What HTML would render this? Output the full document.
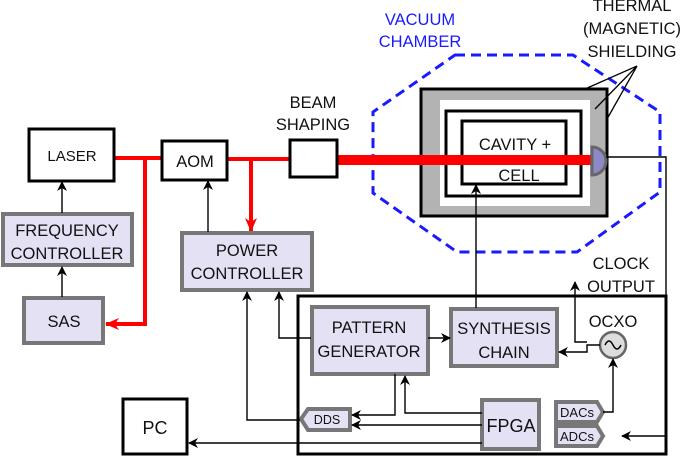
<!DOCTYPE html>
<html><head><meta charset="utf-8"><style>
html,body{margin:0;padding:0;background:#fff}
svg{display:block}
text{font-family:"Liberation Sans",Arial,sans-serif;fill:#111}
</style></head><body>
<svg width="685" height="457" viewBox="0 0 685 457" xmlns="http://www.w3.org/2000/svg">
<defs>
<marker id="a" markerWidth="10" markerHeight="10" refX="9" refY="5" orient="auto" markerUnits="userSpaceOnUse"><path d="M0,0 L10,5 L0,10 L3,5 z" fill="#000"/></marker>
<marker id="r" markerWidth="14" markerHeight="12" refX="13" refY="6" orient="auto" markerUnits="userSpaceOnUse"><path d="M0,0 L14,6 L0,12 L4,6 z" fill="#f00"/></marker>
</defs>

<polygon points="455,55 573,55 660,112 660,192 577,252 457,252 373,193 373,112" fill="none" stroke="#1a1aff" stroke-width="3" stroke-dasharray="10,6"/>
<text x="420" y="25" font-size="16.5" style="fill:#1a1aff" text-anchor="middle">VACUUM</text>
<text x="420" y="47" font-size="16.5" style="fill:#1a1aff" text-anchor="middle">CHAMBER</text>

<rect x="421" y="89" width="186" height="127" fill="#b3b3b3" stroke="#000" stroke-width="3"/>
<rect x="440" y="100" width="150" height="106" fill="#fff"/>
<rect x="446" y="111" width="135" height="85" fill="#fff" stroke="#000" stroke-width="3"/>
<rect x="462" y="121" width="104" height="63" fill="#fff" stroke="#000" stroke-width="3"/>
<text x="515" y="150" font-size="16.5" text-anchor="middle">CAVITY +</text>
<text x="519" y="181" font-size="16.5" text-anchor="middle">CELL</text>
<text x="632" y="11" font-size="16.5" text-anchor="middle">THERMAL</text>
<text x="632" y="34" font-size="16.5" text-anchor="middle">(MAGNETIC)</text>
<text x="632" y="57" font-size="16.5" text-anchor="middle">SHIELDING</text>
<path d="M637,66 L585,89 M637,66 L595,109 M637,66 L607,119" stroke="#000" stroke-width="1.3" fill="none"/>

<path d="M114,158 L161,158 M145,158 L145,324 L106,324" stroke="#f00" stroke-width="4" fill="none"/>
<path d="M145,324 L106,324" stroke="#f00" stroke-width="4" fill="none" marker-end="url(#r)"/>
<path d="M227,159 L290,159 M251,159 L251,230" stroke="#f00" stroke-width="4" fill="none"/>
<path d="M251,200 L251,231" stroke="#f00" stroke-width="4" fill="none" marker-end="url(#r)"/>
<path d="M337,160 L595,160" stroke="#f00" stroke-width="10" fill="none"/>
<path d="M592,147 A14,14 0 0 1 592,175 Z" fill="#8d88c8" stroke="#666" stroke-width="3"/>

<rect x="29" y="129" width="85" height="52" fill="#fff" stroke="#000" stroke-width="3"/>
<text x="72" y="161" font-size="15" text-anchor="middle">LASER</text>
<rect x="162" y="141" width="65" height="39" fill="#fff" stroke="#000" stroke-width="3"/>
<text x="195" y="167" font-size="16.5" text-anchor="middle">AOM</text>
<rect x="290" y="140" width="47" height="37" fill="#fff" stroke="#000" stroke-width="3"/>
<text x="313" y="108" font-size="16.5" text-anchor="middle">BEAM</text>
<text x="313" y="130" font-size="16.5" text-anchor="middle">SHAPING</text>

<g fill="#e5e1f5" stroke="#777" stroke-width="4">
<rect x="3" y="214" width="129" height="51"/>
<rect x="24" y="298" width="79" height="45"/>
<rect x="182" y="233" width="130" height="57"/>
<rect x="312" y="307" width="116" height="67"/>
<rect x="451" y="309" width="106" height="57"/>
<rect x="482" y="400" width="57" height="49"/>
<polygon points="301,419 308,409 350,409 350,430 308,430"/>
<polygon points="556,402 597,402 603,412 597,422 556,422"/>
<polygon points="556,426 597,426 603,436 597,446 556,446"/>
</g>
<text x="67" y="236" font-size="16.5" text-anchor="middle">FREQUENCY</text>
<text x="67" y="259" font-size="16.5" text-anchor="middle">CONTROLLER</text>
<text x="64" y="327" font-size="16.5" text-anchor="middle">SAS</text>
<text x="247" y="256" font-size="16.5" text-anchor="middle">POWER</text>
<text x="247" y="279" font-size="16.5" text-anchor="middle">CONTROLLER</text>
<text x="369" y="333" font-size="16.5" text-anchor="middle">PATTERN</text>
<text x="369" y="357" font-size="16.5" text-anchor="middle">GENERATOR</text>
<text x="504" y="334" font-size="16.5" text-anchor="middle">SYNTHESIS</text>
<text x="504" y="358" font-size="16.5" text-anchor="middle">CHAIN</text>
<text x="511" y="432" font-size="18" text-anchor="middle">FPGA</text>
<text x="327" y="424" font-size="12.5" text-anchor="middle">DDS</text>
<text x="577" y="417" font-size="13" text-anchor="middle">DACs</text>
<text x="577" y="441" font-size="13" text-anchor="middle">ADCs</text>

<rect x="298" y="296" width="368" height="158" fill="none" stroke="#000" stroke-width="3"/>
<rect x="123" y="399" width="64" height="55" fill="#fff" stroke="#000" stroke-width="3"/>
<text x="155" y="434" font-size="18" text-anchor="middle">PC</text>

<circle cx="613" cy="345" r="13" fill="#ddd" stroke="#666" stroke-width="2.5"/>
<path d="M605,345 q4,-8 8,0 q4,8 8,0" stroke="#000" stroke-width="1.5" fill="none"/>
<text x="613" y="327" font-size="16.5" text-anchor="middle">OCXO</text>
<text x="621" y="269" font-size="16.5" text-anchor="middle">CLOCK</text>
<text x="621" y="292" font-size="16.5" text-anchor="middle">OUTPUT</text>

<g stroke="#000" stroke-width="1.4" fill="none" marker-end="url(#a)">
<path d="M62,213 L62,182"/>
<path d="M62,297 L62,267"/>
<path d="M208,232 L208,181"/>
<path d="M300,420 L247,420 L247,292"/>
<path d="M311,338 L279,338 L279,292"/>
<path d="M428,338 L450,338"/>
<path d="M476,308 L476,185"/>
<path d="M395,374 L395,415 L352,415"/>
<path d="M482,425 L352,425"/>
<path d="M482,413 L405,413 L405,376"/>
<path d="M482,443 L189,443"/>
<path d="M603,412 L613,412 L613,359"/>
<path d="M600,345 L587,345 L587,352 L559,352"/>
<path d="M587,342 L575,342 L575,282"/>
<path d="M606,157 L666,157 L666,436 L622,436"/>
</g>
</svg>
</body></html>
